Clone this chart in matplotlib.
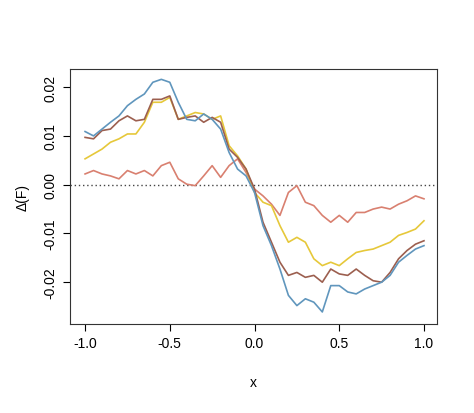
import numpy as np
import matplotlib
matplotlib.use("Agg")
import matplotlib.pyplot as plt

plt.rcParams['font.family'] = ['Liberation Sans', 'DejaVu Sans']

x = np.round(np.arange(-1.0, 1.0001, 0.05), 2)
blue = [1.09,1.00,1.14,1.28,1.41,1.62,1.75,1.86,2.10,2.16,2.10,1.69,1.34,1.31,1.45,1.34,1.14,0.66,0.32,0.18,-0.16,-0.84,-1.25,-1.73,-2.27,-2.48,-2.34,-2.41,-2.61,-2.07,-2.07,-2.20,-2.24,-2.14,-2.07,-2.00,-1.86,-1.59,-1.45,-1.32,-1.25]
brown = [0.97,0.94,1.11,1.14,1.31,1.41,1.31,1.34,1.75,1.75,1.82,1.34,1.38,1.41,1.28,1.38,1.28,0.73,0.56,0.32,-0.09,-0.77,-1.18,-1.59,-1.86,-1.80,-1.90,-1.86,-2.00,-1.73,-1.83,-1.86,-1.73,-1.86,-1.97,-2.00,-1.80,-1.52,-1.35,-1.22,-1.15]
yellow = [0.53,0.63,0.73,0.87,0.94,1.04,1.04,1.28,1.69,1.69,1.79,1.34,1.41,1.48,1.45,1.34,1.41,0.80,0.59,0.32,-0.16,-0.36,-0.43,-0.84,-1.18,-1.08,-1.18,-1.52,-1.66,-1.59,-1.66,-1.52,-1.39,-1.35,-1.32,-1.25,-1.18,-1.04,-0.98,-0.91,-0.74]
red = [0.22,0.29,0.22,0.18,0.12,0.29,0.22,0.29,0.18,0.39,0.46,0.12,0.01,-0.02,0.18,0.39,0.15,0.39,0.53,0.25,-0.09,-0.23,-0.40,-0.63,-0.16,-0.02,-0.36,-0.43,-0.63,-0.77,-0.63,-0.77,-0.57,-0.57,-0.50,-0.46,-0.50,-0.40,-0.33,-0.23,-0.29]
series = [(red, '#d98070'), (yellow, '#e6c83a'), (brown, '#9c5f4f'), (blue, '#6096bd')]

fig = plt.figure(figsize=(4.74, 4.14), dpi=100)
ax = fig.add_axes([0.148, 0.215, 0.774, 0.616])
ax.axhline(0, color='#444444', linestyle=(0, (1, 2)), lw=1)
for vals, c in series:
    ax.plot(x, np.array(vals) / 100, color=c, lw=1.2)
ax.set_xlim(-1.088, 1.077)
ax.set_ylim(-0.02857, 0.02373)
ax.set_xticks([-1.0, -0.5, 0.0, 0.5, 1.0])
ax.set_xticklabels(['-1.0', '-0.5', '0.0', '0.5', '1.0'])
ax.set_yticks([-0.02, -0.01, 0.0, 0.01, 0.02])
ax.set_yticklabels(['-0.02', '-0.01', '0.00', '0.01', '0.02'], rotation=90, va='center')
ax.tick_params(labelsize=10, length=5, pad=4)
for s in ax.spines.values():
    s.set_color('#333333')
ax.set_xlabel('x', fontsize=10, labelpad=18)
ax.set_ylabel('Δ(F)', fontsize=10, labelpad=10)
fig.savefig('out.png', dpi=100)
